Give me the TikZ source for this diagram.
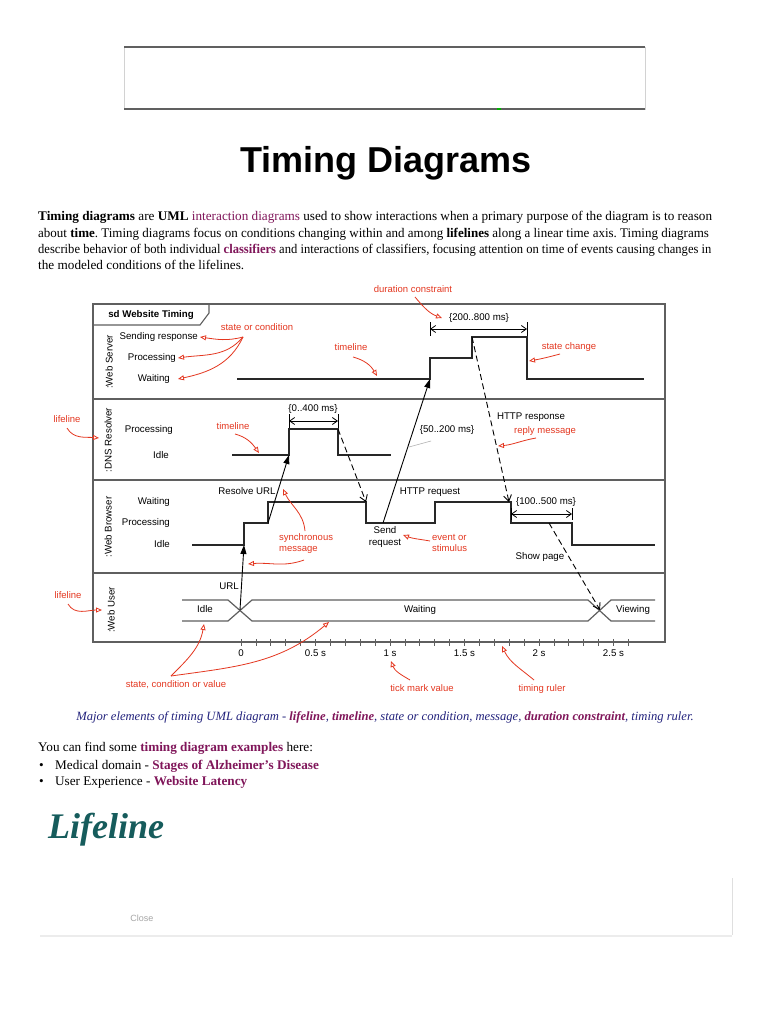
\documentclass[tikz,border=0pt]{standalone}
\usepackage{fontspec}
\usepackage{graphicx}
\setmainfont{Liberation Serif}
\newfontfamily\arialf{Liberation Sans}
\usetikzlibrary{arrows.meta}
\frenchspacing
\definecolor{linkc}{RGB}{128,22,90}
\definecolor{capc}{RGB}{35,35,125}
\definecolor{tealc}{RGB}{22,92,92}
\definecolor{annot}{RGB}{228,55,32}
\definecolor{tlc}{RGB}{40,40,40}
\definecolor{framec}{RGB}{95,95,95}
\tikzset{
 dtext/.style={font=\arialf\fontsize{9.7}{11}\selectfont, inner sep=0pt, text height=7pt, text depth=2pt},
 rtext/.style={font=\arialf\fontsize{9.5}{11}\selectfont, text=annot, inner sep=0pt, text height=7pt, text depth=2pt},
 frameline/.style={draw=framec, line width=1.1pt},
 tline/.style={draw=tlc, line width=1.2pt},
 bandline/.style={draw=framec, line width=1.2pt},
 msg/.style={draw=black, line width=0.9pt, -{Triangle[length=9pt,width=6pt]}},
 replymsg/.style={draw=black, line width=0.9pt, dash pattern=on 6pt off 3.5pt, -{Straight Barb[length=6pt,width=8pt]}},
 annarrow/.style={draw=annot, line width=0.8pt, -{Triangle[open,length=6pt,width=5pt]}},
 durarrow/.style={draw=black, line width=0.8pt, {Straight Barb[length=5pt,width=7pt]}-{Straight Barb[length=5pt,width=7pt]}},
 durbar/.style={draw=black, line width=0.9pt},
 ptext/.style={font=\fontsize{13.2}{15}\selectfont, anchor=base west, inner sep=0pt},
}
\begin{document}
\begin{tikzpicture}[x=1pt,y=-1pt]
\useasboundingbox (0,0) rectangle (768,1024);
\fill[white] (0,0) rectangle (768,1024);

% top banner box
\draw[gray!35, line width=0.6pt] (124,47) rectangle (645,109);
\draw[gray!75!black, line width=2pt] (124,47) -- (645,47);
\draw[gray!75!black, line width=2pt] (124,109) -- (645,109);
\fill[green!70!black] (497,108) rectangle (501,110);

% title
\node[font=\arialf\bfseries\fontsize{36}{40}\selectfont, anchor=base, inner sep=0pt] (title) at (386,173) {Timing Diagrams};

% paragraph
\node[ptext] (p1) at (38,221) {\textbf{Timing diagrams} are \textbf{UML} {\color{linkc}interaction diagrams} used to show interactions when a primary purpose of the diagram is to reason};
\node[ptext] (p2) at (38,237) {\scalebox{0.985}[1]{about \textbf{time}. Timing diagrams focus on conditions changing within and among \textbf{lifelines} along a linear time axis. Timing diagrams}};
\node[ptext] (p3) at (38,253) {\scalebox{0.953}[1]{describe behavior of both individual {\color{linkc}\textbf{classifiers}} and interactions of classifiers, focusing attention on time of events causing changes in}};
\node[ptext] (p4) at (38,269) {the modeled conditions of the lifelines.};

% ===== diagram frame =====
\draw[frameline] (93,304) rectangle (665,642);
\draw[frameline] (93,325) -- (200,325) -- (209,313) -- (209,304);
\node[dtext, font=\arialf\bfseries\fontsize{9.7}{11}\selectfont] (hdr) at (151,315) {sd Website Timing};
\draw[frameline] (93,399) -- (665,399);
\draw[frameline] (93,480) -- (665,480);
\draw[frameline] (93,573) -- (665,573);

% lifeline names
\node[dtext, rotate=90] (lnWS) at (110,362) {:Web Server};
\node[dtext, rotate=90] (lnDNS) at (109,440) {:DNS Resolver};
\node[dtext, rotate=90] (lnWB) at (109,527) {:Web Browser};
\node[dtext, rotate=90] (lnWU) at (112,610) {:Web User};

% Web Server states
\node[dtext, anchor=east] (wsSend) at (198,337) {Sending response};
\node[dtext, anchor=east] (wsProc) at (176,358) {Processing};
\node[dtext, anchor=east] (wsWait) at (170,379) {Waiting};
\draw[tline] (237,379) -- (430,379) -- (430,358) -- (472,358) -- (472,337) -- (527,337) -- (527,379) -- (644,379);

% DNS states
\node[dtext, anchor=east] (dnsProc) at (173,430) {Processing};
\node[dtext, anchor=east] (dnsIdle) at (169,456) {Idle};
\draw[tline] (232,455) -- (289,455) -- (289,429) -- (338,429) -- (338,455) -- (391,455);

% Web Browser states
\node[dtext, anchor=east] (wbWait) at (170,502) {Waiting};
\node[dtext, anchor=east] (wbProc) at (170,523) {Processing};
\node[dtext, anchor=east] (wbIdle) at (170,545) {Idle};
\draw[tline] (192,545) -- (244,545) -- (244,523) -- (268,523) -- (268,502) -- (366,502) -- (366,523) -- (435,523) -- (435,502) -- (511,502) -- (511,523) -- (572,523) -- (572,545) -- (655,545);

% Web User value band
\draw[bandline] (182,600) -- (228,600) -- (252,621) -- (588,621) -- (611,600) -- (655,600);
\draw[bandline] (182,621) -- (228,621) -- (252,600) -- (588,600) -- (611,621) -- (655,621);
\node[dtext] (wuIdle) at (205,610) {Idle};
\node[dtext] (wuWait) at (420,610) {Waiting};
\node[dtext] (wuView) at (633,610) {Viewing};

% timing ruler
\foreach \i in {0,...,26} \draw[framec, line width=0.8pt] ({241+\i*14.9},639) -- ({241+\i*14.9},646);
\node[dtext] (r0) at (241,654) {0};
\node[dtext] (r05) at (315.5,654) {0.5 s};
\node[dtext] (r1) at (390,654) {1 s};
\node[dtext] (r15) at (464.5,654) {1.5 s};
\node[dtext] (r2) at (539,654) {2 s};
\node[dtext] (r25) at (613.5,654) {2.5 s};

% message points
\coordinate (mURLa) at (240,610);
\coordinate (mURLb) at (244,545);
\coordinate (mResA) at (268,523);
\coordinate (mResB) at (289,455);
\coordinate (mDnsA) at (338,429);
\coordinate (mDnsB) at (366,502);
\coordinate (mReqA) at (383,523);
\coordinate (mReqB) at (430,379);
\coordinate (mRespA) at (472,337);
\coordinate (mRespB) at (509,502);
\coordinate (mShowA) at (549,523);
\coordinate (mShowB) at (600,610);

\draw[msg] (mURLa) -- (mURLb);
\draw[msg] (mResA) -- (mResB);
\draw[replymsg] (mDnsA) -- (mDnsB);
\draw[msg] (mReqA) -- (mReqB);
\draw[replymsg] (mRespA) -- (mRespB);
\draw[replymsg] (mShowA) -- (mShowB);

\node[dtext] (lURL) at (229,587) {URL};
\node[dtext] (lRes) at (247,492) {Resolve URL};
\node[dtext] (lHreq) at (430,492) {HTTP request};
\node[dtext, align=center, text height=, text depth=, font=\arialf\fontsize{9.7}{11.5}\selectfont] (lSend) at (385,537) {Send\\request};
\node[dtext] (lHresp) at (531,417) {HTTP response};
\node[dtext] (lShow) at (540,557) {Show page};
\node[dtext] (l50) at (447,430) {\{50..200 ms\}};
\coordinate (g50a) at (409,447);
\coordinate (g50b) at (431,441);
\draw[gray!60, line width=0.6pt] (g50a) -- (g50b);

% duration constraints
\coordinate (d1a) at (430,329); \coordinate (d1b) at (527,329);
\draw[durbar] (430,322) -- (430,336); \draw[durbar] (527,322) -- (527,336);
\draw[durarrow] (d1a) -- (d1b);
\node[dtext] (l200) at (479,318) {\{200..800 ms\}};

\coordinate (d2a) at (289,421); \coordinate (d2b) at (338,421);
\draw[durbar] (289,414) -- (289,428); \draw[durbar] (338,414) -- (338,428);
\draw[durarrow] (d2a) -- (d2b);
\node[dtext] (l0) at (313,409) {\{0..400 ms\}};

\coordinate (d3a) at (511,514); \coordinate (d3b) at (572,514);
\draw[durbar] (511,508) -- (511,520); \draw[durbar] (572,508) -- (572,520);
\draw[durarrow] (d3a) -- (d3b);
\node[dtext] (l100) at (546,502) {\{100..500 ms\}};

% ===== red annotations =====
\node[rtext] (aState) at (257,328) {state or condition};
\coordinate (aStateO) at (243,337);
\coordinate (tSend) at (200,337);
\coordinate (tProc) at (178,358);
\coordinate (tWait) at (178,379);
\draw[annarrow] (aStateO) to[out=195,in=-8] (tSend);
\draw[annarrow] (aStateO) to[out=230,in=8] (tProc);
\draw[annarrow] (aStateO) to[out=245,in=12] (tWait);

\node[rtext] (aDur) at (413,290) {duration constraint};
\coordinate (aDurO) at (415,297); \coordinate (aDurT) at (442,318);
\draw[annarrow] (aDurO) to[out=-50,in=160] (aDurT);

\node[rtext] (aTl1) at (351,348) {timeline};
\coordinate (aTl1O) at (353,357); \coordinate (aTl1T) at (377,376);
\draw[annarrow] (aTl1O) to[out=-15,in=120] (aTl1T);

\node[rtext] (aSc) at (569,347) {state change};
\coordinate (aScO) at (560,354); \coordinate (aScT) at (529,361);
\draw[annarrow] (aScO) to[out=195,in=10] (aScT);

\node[rtext] (aLl1) at (67,420) {lifeline};
\coordinate (aLl1O) at (67,428); \coordinate (aLl1T) at (99,438);
\draw[annarrow] (aLl1O) to[out=-60,in=175] (aLl1T);

\node[rtext] (aTl2) at (233,427) {timeline};
\coordinate (aTl2O) at (235,434); \coordinate (aTl2T) at (259,453);
\draw[annarrow] (aTl2O) to[out=-15,in=125] (aTl2T);

\node[rtext] (aRep) at (545,431) {reply message};
\coordinate (aRepO) at (536,438); \coordinate (aRepT) at (498,446);
\draw[annarrow] (aRepO) to[out=190,in=5] (aRepT);

\node[rtext, align=left, anchor=west, text height=, text depth=, font=\arialf\fontsize{9.5}{11}\selectfont] (aSync) at (279,544) {synchronous\\message};
\coordinate (aSyncO1) at (305,531); \coordinate (aSyncT1) at (283,489);
\draw[annarrow] (aSyncO1) to[out=95,in=-65] (aSyncT1);
\coordinate (aSyncO2) at (304,560); \coordinate (aSyncT2) at (248,564);
\draw[annarrow] (aSyncO2) to[out=200,in=5] (aSyncT2);

\node[rtext, align=left, anchor=west, text height=, text depth=, font=\arialf\fontsize{9.5}{11}\selectfont] (aEv) at (432,543) {event or\\stimulus};
\coordinate (aEvO) at (430,541); \coordinate (aEvT) at (403,535);
\draw[annarrow] (aEvO) to[out=170,in=-20] (aEvT);

\node[rtext] (aLl2) at (68,596) {lifeline};
\coordinate (aLl2O) at (68,604); \coordinate (aLl2T) at (102,610);
\draw[annarrow] (aLl2O) to[out=-60,in=180] (aLl2T);

\node[rtext] (aScv) at (176,685) {state, condition or value};
\coordinate (aScvO) at (171,676);
\coordinate (aScvT1) at (204,624); \coordinate (aScvT2) at (329,622);
\draw[annarrow] (aScvO) to[out=45,in=-100] (aScvT1);
\draw[annarrow] (aScvO) to[out=8,in=-140] (aScvT2);

\node[rtext] (aTick) at (422,689) {tick mark value};
\coordinate (aTickO) at (410,680); \coordinate (aTickT) at (391,661);
\draw[annarrow] (aTickO) to[out=150,in=-70] (aTickT);

\node[rtext] (aRul) at (542,689) {timing ruler};
\coordinate (aRulO) at (534,680); \coordinate (aRulT) at (502,646);
\draw[annarrow] (aRulO) to[out=140,in=-65] (aRulT);

% caption
\node[font=\itshape\fontsize{12.6}{14}\selectfont, text=capc, inner sep=0pt, anchor=base] (cap) at (385,720) {Major elements of timing UML diagram - {\color{linkc}\bfseries lifeline}, {\color{linkc}\bfseries timeline}, state or condition, message, {\color{linkc}\bfseries duration constraint}, timing ruler.};

% examples
\node[ptext] (ex) at (38,751) {You can find some {\color{linkc}\textbf{timing diagram examples}} here:};
\node[ptext] (b1) at (39,769) {•};
\node[ptext] (e1) at (55,769) {Medical domain - {\color{linkc}\textbf{Stages of Alzheimer’s Disease}}};
\node[ptext] (b2) at (39,785) {•};
\node[ptext] (e2) at (55,785) {User Experience - {\color{linkc}\textbf{Website Latency}}};

% Lifeline heading
\node[font=\bfseries\itshape\fontsize{36}{40}\selectfont, text=tealc, anchor=base west, inner sep=0pt] (hLife) at (48,838) {Lifeline};

% bottom box
\draw[gray!25, line width=0.8pt] (732,878) -- (732,935);
\draw[gray!15, line width=2.5pt] (40,936) -- (732,936);
\node[font=\arialf\fontsize{9}{10}\selectfont, text=gray!70, inner sep=0pt] (close) at (142,918) {Close};
\end{tikzpicture}
\end{document}
